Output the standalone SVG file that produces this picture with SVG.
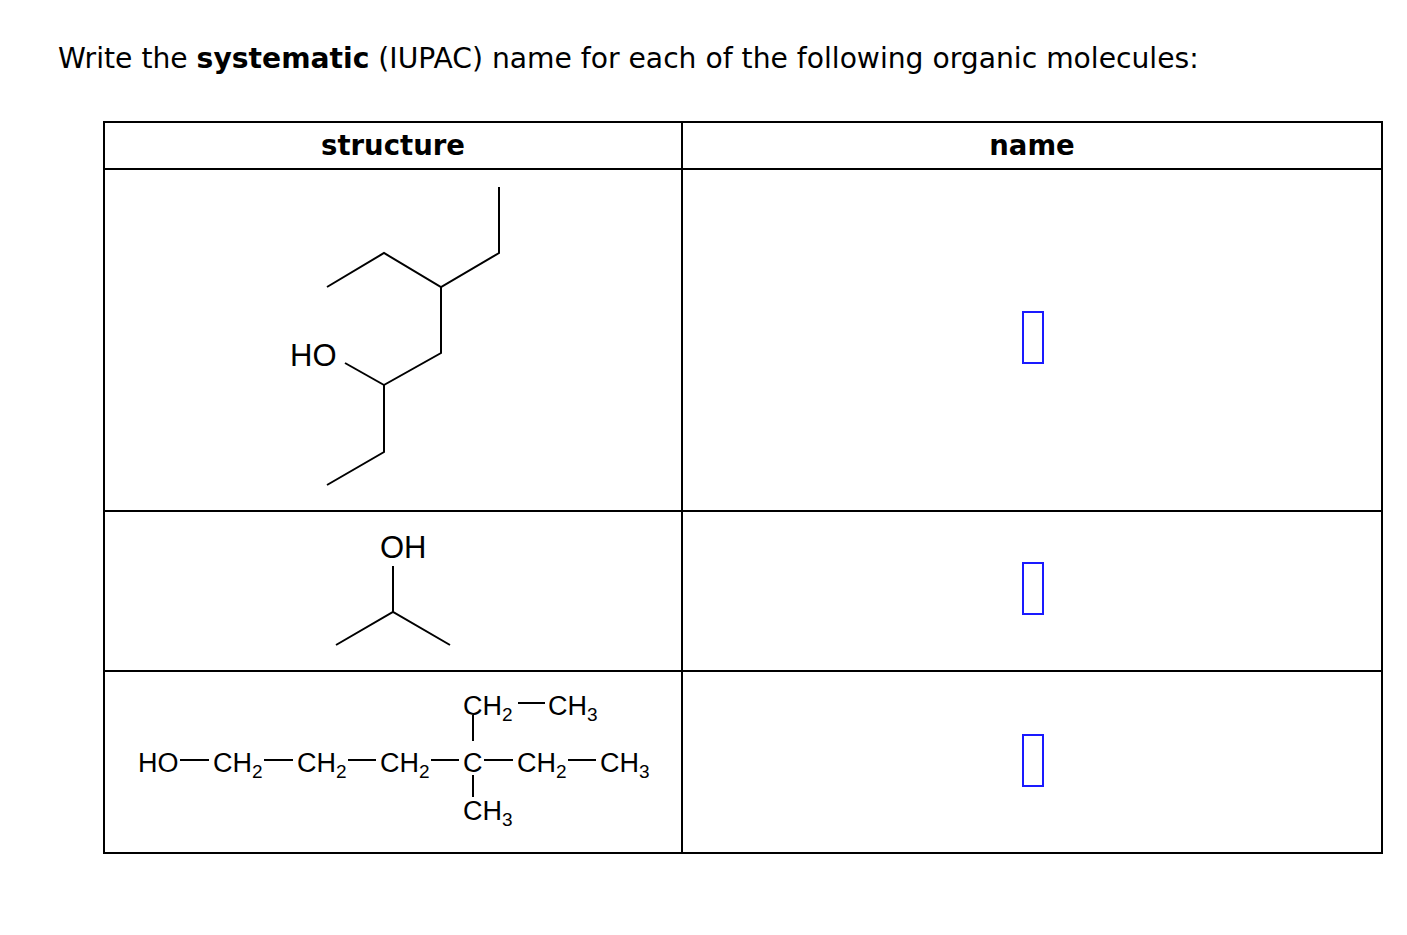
<svg xmlns="http://www.w3.org/2000/svg" width="1407" height="935" viewBox="0 0 1407 935">
<style>
.t{font-family:"DejaVu Sans",Verdana,sans-serif;font-size:28.2px;fill:#000}
.h{font-family:"DejaVu Sans",Verdana,sans-serif;font-size:27.5px;font-weight:bold;fill:#000}
.c{font-family:"Liberation Sans",Arial,sans-serif;font-size:27px;fill:#000}
.a{font-family:"Liberation Sans",Arial,sans-serif;font-size:31px;fill:#000}
.s{font-size:19px}
.b{stroke:#000;stroke-width:2;fill:none}
.g{stroke:#000;stroke-width:2;fill:none}
.x{stroke:#1a1aff;stroke-width:2;fill:none}
</style>
<rect width="1407" height="935" fill="#fff"/>
<text class="t" x="58" y="68">Write the <tspan font-weight="bold">systematic</tspan> (IUPAC) name for each of the following organic molecules:</text>
<g id="table">
<rect x="104" y="122" width="1278" height="731" class="g"/>
<line x1="682" y1="122" x2="682" y2="853" class="g"/>
<line x1="104" y1="169" x2="1382" y2="169" class="g"/>
<line x1="104" y1="511" x2="1382" y2="511" class="g"/>
<line x1="104" y1="671" x2="1382" y2="671" class="g"/>
<text class="h" x="393" y="155" text-anchor="middle">structure</text>
<text class="h" x="1032" y="155" text-anchor="middle">name</text>
</g>
<g id="mol1">
<polyline class="b" points="499,187 499,253 441,287 384,253 327,287"/>
<polyline class="b" points="441,287 441,353 384,385 384,452 327,485"/>
<line x1="345" y1="363" x2="384" y2="385" class="b"/>
<text class="a" x="290" y="366">HO</text>
</g>
<g id="mol2">
<text class="a" x="380" y="558">OH</text>
<line x1="393" y1="566" x2="393" y2="612" class="b"/>
<polyline class="b" points="336,645 393,612 450,645"/>
</g>
<g id="mol3">
<text class="c" x="138" y="772">HO</text>
<text class="c" x="213" y="772">CH<tspan class="s" dy="6">2</tspan></text>
<text class="c" x="297" y="772">CH<tspan class="s" dy="6">2</tspan></text>
<text class="c" x="380" y="772">CH<tspan class="s" dy="6">2</tspan></text>
<text class="c" x="463" y="772">C</text>
<text class="c" x="517" y="772">CH<tspan class="s" dy="6">2</tspan></text>
<text class="c" x="600" y="772">CH<tspan class="s" dy="6">3</tspan></text>
<text class="c" x="463" y="715">CH<tspan class="s" dy="6">2</tspan></text>
<text class="c" x="548" y="715">CH<tspan class="s" dy="6">3</tspan></text>
<text class="c" x="463" y="820">CH<tspan class="s" dy="6">3</tspan></text>
</g>
<g id="connectors">
<g class="b">
<line x1="180" y1="760" x2="209" y2="760"/>
<line x1="264" y1="760" x2="293" y2="760"/>
<line x1="348" y1="760" x2="376" y2="760"/>
<line x1="431" y1="760" x2="459" y2="760"/>
<line x1="484" y1="760" x2="513" y2="760"/>
<line x1="568" y1="760" x2="596" y2="760"/>
<line x1="518" y1="703" x2="545" y2="703"/>
<line x1="473" y1="715" x2="473" y2="741"/>
<line x1="473" y1="775" x2="473" y2="797"/>
</g>
</g>
<g id="answers">
<rect x="1023" y="312" width="20" height="51" class="x"/>
<rect x="1023" y="563" width="20" height="51" class="x"/>
<rect x="1023" y="735" width="20" height="51" class="x"/>
</g>
</svg>
